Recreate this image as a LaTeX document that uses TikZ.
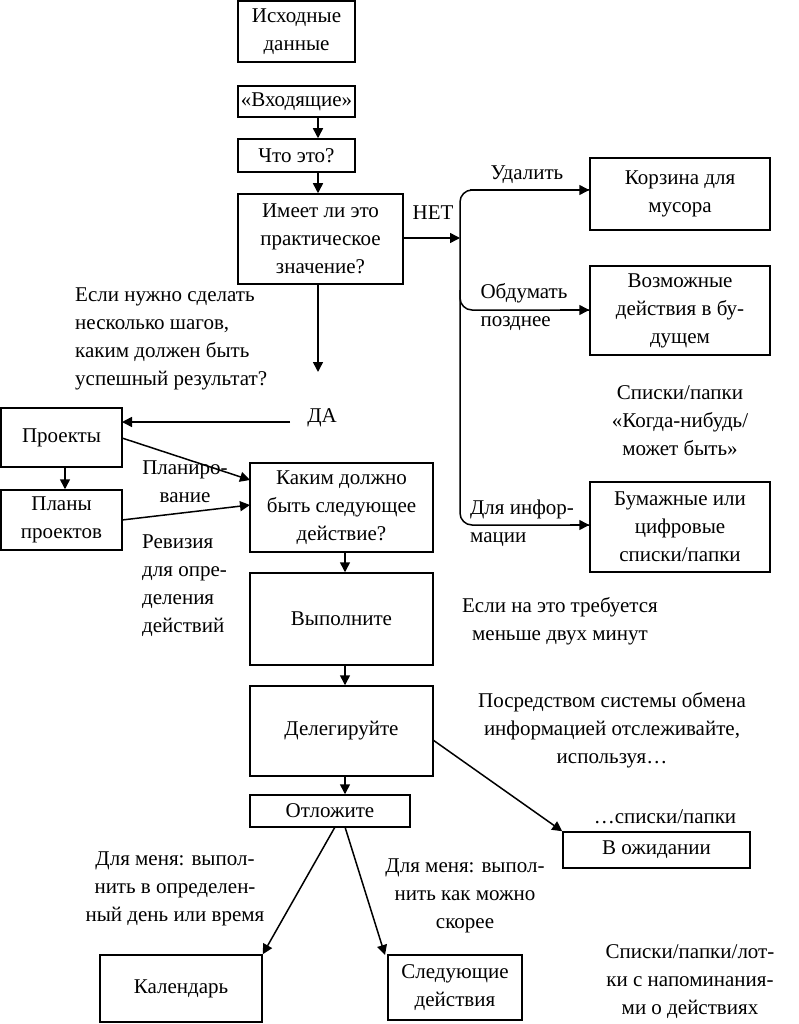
\documentclass[tikz,border=0pt]{standalone}
\usepackage{fontspec}
\setmainfont{Liberation Serif}
\usetikzlibrary{arrows.meta}
\begin{document}
\begin{tikzpicture}[x=1pt,y=-1pt,
  box/.style={draw,line width=1.5pt,inner sep=0pt,align=center,font=\fontsize{21}{28}\selectfont},
  txt/.style={align=center,font=\fontsize{21}{28}\selectfont,inner sep=0pt},
  arr/.style={line width=1.5pt,-{Triangle[length=10pt,width=10pt]}},
  ln/.style={line width=1.5pt}]
\useasboundingbox (0,0) rectangle (798,1024);
\def\bx#1#2#3#4#5#6{\node[box,minimum width=#4-#2,minimum height=#5-#3] (#1) at ({(#2+#4)/2},{(#3+#5)/2}) {#6};}
\bx{a}{238}{1}{355}{62}{Исходные\\данные}
\bx{b}{238}{86}{355}{117}{«Входящие»}
\bx{c}{238}{139}{355}{172}{Что это?}
\bx{d}{238}{194}{403}{284}{Имеет ли это\\практическое\\значение?}
\bx{k}{590}{158}{770}{230}{Корзина для\\мусора}
\bx{v}{590}{266}{770}{355}{Возможные\\действия в бу-\\дущем}
\bx{m}{590}{482}{770}{572}{Бумажные или\\цифровые\\списки/папки}
\bx{p}{1}{408}{122}{467}{Проекты}
\bx{pl}{1}{490}{122}{550}{Планы\\проектов}
\bx{n}{250}{463}{433}{552}{Каким должно\\быть следующее\\действие?}
\bx{e}{250}{573}{433}{665}{Выполните}
\bx{g}{250}{686}{433}{776}{Делегируйте}
\bx{o}{250}{795}{410}{827}{Отложите}
\bx{w}{563}{832}{750}{868}{В ожидании}
\bx{cal}{100}{955}{262}{1022}{Календарь}
\bx{sl}{388}{955}{522}{1020}{Следующие\\действия}

\draw[arr] (b.south-|318,0) -- (c.north-|318,0);
\draw[arr] (c.south-|318,0) -- (d.north-|318,0);
\draw[arr] (d.south-|318,0) -- (318,372);
\draw[arr] (n.south-|345,0) -- (e.north-|345,0);
\draw[arr] (e.south-|345,0) -- (g.north-|345,0);
\draw[arr] (g.south-|345,0) -- (o.north-|345,0);
\draw[arr] (p.south-|65,0) -- (pl.north-|65,0);
\coordinate (da) at (290,422);
\node[txt] at (322,418) {ДА};
\draw[arr] (da) -- (122,422);
\draw[arr] (122,438) -- (250,480);
\draw[arr] (122,520) -- (250,505);
\node[txt] at (433,213) {НЕТ};
\coordinate (j) at (460,238);
\draw[arr] (d.east|-j) -- (j);
\draw[ln,rounded corners=12pt] (k.west|-0,190) -- (460,190) -- (460,525) -- (m.west|-0,525);
\draw[arr] (470,190) -- (k.west|-0,190);
\draw[ln,rounded corners=12pt] (460,290) -- (460,310) -- (v.west|-0,310);
\draw[arr] (560,310) -- (v.west|-0,310);
\draw[arr] (570,525) -- (m.west|-0,525);
\node[txt] at (527,175) {Удалить};
\node[txt,align=left] at (524,307) {Обдумать\\позднее};
\node[txt,align=left] at (522,523) {Для инфор-\\мации};
\draw[arr] (433,740) -- (w.north west);
\draw[arr] (335,827) -- (cal.north east);
\draw[arr] (345,827) -- (385,955);

\node[txt,align=left,anchor=north west] at (75,288) {Если нужно сделать\\несколько шагов,\\каким должен быть\\успешный результат?};
\node[txt] at (680,421) {Списки/папки\\«Когда-нибудь/\\может быть»};
\node[txt] at (185,482) {Планиро-\\вание};
\node[txt,align=left,anchor=north west] at (142,535) {Ревизия\\для опре-\\деления\\действий};
\node[txt] at (560,621) {Если на это требуется\\меньше двух минут};
\node[txt] at (612,730) {Посредством системы обмена\\информацией отслеживайте,\\используя…};
\node[txt] at (665,817) {…списки/папки};
\node[txt] at (175,889) {Для меня: выпол-\\нить в определен-\\ный день или время};
\node[txt] at (465,896) {Для меня: выпол-\\нить как можно\\скорее};
\node[txt] at (690,982) {Списки/папки/лот-\\ки с напоминания-\\ми о действиях};
\end{tikzpicture}
\end{document}
